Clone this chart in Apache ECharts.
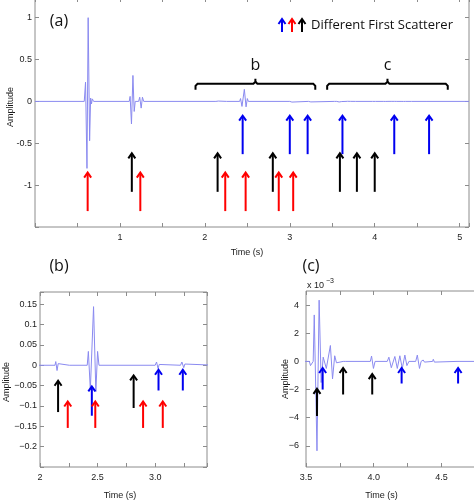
<!DOCTYPE html>
<html>
<head>
<meta charset="utf-8">
<script src="https://cdn.jsdelivr.net/npm/echarts@6/dist/echarts.min.js"></script>
<style>
  html, body { margin: 0; padding: 0; background: #fff; }
  #chart { width: 474px; height: 501px; }
</style>
</head>
<body>
<div id="chart"></div>
<script>
// waveform (time in s, amplitude); (b) and (c) are zooms of the same trace
const traceT = [0, 0.58, 0.595, 0.612, 0.626, 0.643, 0.655, 0.665, 0.675, 0.69,
  1.11, 1.12, 1.136, 1.153, 1.168, 1.18, 1.22, 1.233, 1.25, 1.265, 1.28,
  2.13, 2.137, 2.148, 2.158, 2.168, 2.255, 2.262, 2.27, 2.278,
  2.41, 2.42, 2.437, 2.465, 2.485, 2.5, 2.512,
  3.0, 3.012, 3.025, 3.035, 3.045, 3.22, 3.232, 3.248, 3.258, 3.268,
  3.525, 3.533, 3.553, 3.561, 3.581, 3.597, 3.612, 3.627, 3.65, 3.68, 3.696, 3.712, 3.725, 3.735,
  3.775, 3.782, 3.79, 3.975, 3.984, 3.998, 4.01,
  4.1, 4.112, 4.13, 4.156, 4.174, 4.193, 4.211, 4.23, 4.245, 4.26,
  4.31, 4.322, 4.338, 4.35, 4.365, 4.375, 4.385, 4.435, 4.44, 4.448, 4.456,
  4.615, 4.622, 4.63, 5.11];
const traceA = [0, 0, 0.23, -0.8, 1.0, -0.47, 0.04, -0.03, 0.03, 0,
  0, 0.06, -0.27, 0.31, -0.12, 0, 0, 0.05, -0.08, 0.05, 0,
  0, 0.009, -0.013, 0.004, 0, 0, 0.004, -0.003, 0,
  0, 0.034, -0.06, 0.144, -0.065, 0.034, 0,
  0, 0.008, -0.008, 0.002, 0, 0, 0.008, -0.006, 0.003, 0,
  0, -0.0003, 0, 0.0033, -0.00635, 0.00435, -0.0015, 0.0003, -0.0005, 0.00113, -0.00124, 0.0004, -0.0001, 0,
  0, 0.0001, 0, 0, 0.00038, -0.0005, 0,
  0, 0.0003, -0.00045, 0.00035, -0.0005, 0.0004, -0.0005, 0.00045, -0.0003, 0,
  0, 0.00045, -0.0005, 0, 0.0001, -0.00005, 0, 0, 0.00015, -0.00005, 0,
  0, 0.00005, 0, 0];

// arrows: [time, tail amplitude, tip amplitude]
const aBlue  = [[2.445, -0.63, -0.17], [3.0, -0.63, -0.17], [3.21, -0.63, -0.17], [3.62, -0.63, -0.17], [4.23, -0.63, -0.17], [4.64, -0.63, -0.17]];
const aBlack = [[1.14, -1.08, -0.62], [2.15, -1.08, -0.62], [2.80, -1.08, -0.62], [3.59, -1.08, -0.62], [3.79, -1.08, -0.62], [4.00, -1.08, -0.62]];
const aRed   = [[0.62, -1.31, -0.85], [1.24, -1.31, -0.85], [2.24, -1.31, -0.85], [2.48, -1.31, -0.85], [2.87, -1.31, -0.85], [3.04, -1.31, -0.85]];
const bBlue  = [[2.45, -0.124, -0.052], [3.029, -0.062, -0.011], [3.24, -0.062, -0.011]];
const bBlack = [[2.157, -0.115, -0.038], [2.813, -0.105, -0.025]];
const bRed   = [[2.241, -0.154, -0.089], [2.48, -0.154, -0.089], [2.895, -0.154, -0.089], [3.066, -0.154, -0.089]];
const cBlue  = [[3.623, -2.0, -0.47], [4.206, -1.57, -0.47], [4.623, -1.57, -0.47]];
const cBlack = [[3.581, -3.88, -1.95], [3.774, -2.35, -0.47], [3.989, -2.35, -0.9]];

// braces over panel (a): [start, end, amplitude]
const braceSpans = [[1.89, 3.30, 0.21], [3.44, 4.86, 0.21]];
const braceNames = ['b', 'c'];

const cYTicks = [-6, -4, -2, 0, 2, 4];

const BLUE = '#0000f0', RED = '#ff0000', BLACK = '#000000', TRACE = '#8a8af0';
const FRAME = '#8c8c8c';
const tickFont = { fontFamily: '"Liberation Sans", Arial', fontSize: 9, color: '#222' };

var myChart = echarts.init(document.getElementById('chart'));

function arrowSeries(data, color, ax) {
  return {
    type: 'custom', xAxisIndex: ax, yAxisIndex: ax, silent: true, z: 5,
    data: data,
    renderItem: function (params, api) {
      const p0 = api.coord([api.value(0), api.value(1)]);
      const p1 = api.coord([api.value(0), api.value(2)]);
      return {
        type: 'group',
        children: [
          { type: 'line', shape: { x1: p0[0], y1: p0[1], x2: p1[0], y2: p1[1] + 1 },
            style: { stroke: color, lineWidth: 2 } },
          { type: 'polyline', shape: { points: [[p1[0] - 3.5, p1[1] + 5], [p1[0], p1[1]], [p1[0] + 3.5, p1[1] + 5]] },
            style: { stroke: color, lineWidth: 2, fill: null } }
        ]
      };
    }
  };
}

// whole trace on every panel, the grid clips it to the zoom window
function traceSeries(ax, scale) {
  return {
    type: 'line', xAxisIndex: ax, yAxisIndex: ax, showSymbol: false, clip: true,
    data: traceT.map((t, i) => [t, traceA[i] * scale]),
    lineStyle: { color: TRACE, width: 1 }, silent: true, z: 3
  };
}

function xAx(grid, pos, min, max, interval, fmt) {
  return {
    type: 'value', gridIndex: grid, position: pos, min: min, max: max, interval: interval,
    axisLine: { show: false, onZero: false }, splitLine: { show: false },
    axisTick: { inside: true, length: 4, lineStyle: { color: FRAME } },
    axisLabel: fmt ? Object.assign({ show: true, margin: 6, formatter: fmt }, tickFont) : { show: false }
  };
}
function yAx(grid, pos, min, max, interval, fmt, margin) {
  return {
    type: 'value', gridIndex: grid, position: pos, min: min, max: max, interval: interval,
    axisLine: { show: false, onZero: false }, splitLine: { show: false },
    axisTick: { inside: true, length: 4, lineStyle: { color: FRAME } },
    axisLabel: fmt ? Object.assign({ show: true, margin: margin, formatter: fmt }, tickFont) : { show: false }
  };
}

const r2 = v => Math.round(v * 1000) / 1000;
const fmtAX = v => { v = r2(v); return (Number.isInteger(v) && v > 0) ? String(v) : ''; };
const fmtAY = v => { v = r2(v); return (v >= -1 && v <= 1) ? String(v) : ''; };
const fmtBX = v => { v = r2(v); return ({ 2: '2', 2.5: '2.5', 3: '3.0' })[v] || ''; };
const fmtBY = v => { v = r2(v); return (v >= -0.2 && v <= 0.15) ? String(v).replace('-', '\u2212') : ''; };
const fmtCX = v => { v = r2(v); return ({ 3.5: '3.5', 4: '4.0', 4.5: '4.5' })[v] || ''; };
const fmtCY = v => { v = r2(v); return String(v).replace('-', '\u2212'); };

const yC = yAx(2, 'left', -7.5, 5, null, fmtCY, 7);
yC.axisTick.customValues = cYTicks;
yC.axisLabel.customValues = cYTicks;
const yCr = yAx(2, 'right', -7.5, 5, null, null);
yCr.axisTick.customValues = cYTicks;

function label(text, x, y, size, rot) {
  return {
    type: 'text', x: x, y: y, rotation: rot || 0, silent: true,
    style: { text: text, align: 'center', verticalAlign: 'middle', fill: '#1a1a1a',
      font: size + 'px "Liberation Sans", Arial' }
  };
}
function annot(text, x, y, size, align) {
  return {
    type: 'text', x: x, y: y, silent: true,
    style: { text: text, align: align || 'center', verticalAlign: 'middle', fill: '#111',
      font: size + 'px "Open Sans"' }
  };
}
function legendArrow(x, color) {
  return {
    type: 'group', silent: true, children: [
      { type: 'line', shape: { x1: x, y1: 32, x2: x, y2: 20 }, style: { stroke: color, lineWidth: 2 } },
      { type: 'polyline', shape: { points: [[x - 3.5, 24], [x, 19], [x + 3.5, 24]] }, style: { stroke: color, lineWidth: 2, fill: null } }
    ]
  };
}

const gridBase = { show: true, borderColor: FRAME, borderWidth: 1, outerBoundsMode: 'none', containLabel: false };

const option = {
  animation: false,
  backgroundColor: '#fff',
  grid: [
    Object.assign({ left: 35, top: -2, width: 434, height: 229 }, gridBase),
    Object.assign({ left: 40, top: 292, width: 167, height: 175 }, gridBase),
    Object.assign({ left: 306, top: 291, width: 172, height: 176 }, gridBase)
  ],
  xAxis: [
    xAx(0, 'bottom', 0, 5.11, 0.5, fmtAX), xAx(0, 'top', 0, 5.11, 0.5, null),
    xAx(1, 'bottom', 2, 3.45, 0.25, fmtBX), xAx(1, 'top', 2, 3.45, 0.25, null),
    xAx(2, 'bottom', 3.5, 4.77, 0.25, fmtCX), xAx(2, 'top', 3.5, 4.77, 0.25, null)
  ],
  yAxis: [
    yAx(0, 'left', -1.5, 1.235, 0.5, fmtAY, 3), yAx(0, 'right', -1.5, 1.235, 0.5, null),
    yAx(1, 'left', -0.25, 0.18, 0.05, fmtBY, 3), yAx(1, 'right', -0.25, 0.18, 0.05, null),
    yC, yCr
  ],
  series: [
    traceSeries(0, 1),
    traceSeries(2, 1),
    traceSeries(4, 1000),
    arrowSeries(aBlue, BLUE, 0), arrowSeries(aBlack, BLACK, 0), arrowSeries(aRed, RED, 0),
    arrowSeries(bBlue, BLUE, 2), arrowSeries(bBlack, BLACK, 2), arrowSeries(bRed, RED, 2),
    arrowSeries(cBlue, BLUE, 4), arrowSeries(cBlack, BLACK, 4),
    {
      type: 'custom', xAxisIndex: 0, yAxisIndex: 0, silent: true, z: 4,
      data: braceSpans,
      renderItem: function (params, api) {
        const a = api.coord([api.value(0), api.value(2)]);
        const b = api.coord([api.value(1), api.value(2)]);
        const m = (a[0] + b[0]) / 2, y = a[1];
        const st = { stroke: BLACK, lineWidth: 2, fill: null };
        return {
          type: 'group',
          children: [
            { type: 'polyline', shape: { points: [[a[0], y + 6], [a[0], y + 2], [a[0] + 2, y], [m - 2, y], [m, y - 2], [m, y - 5]] }, style: st },
            { type: 'polyline', shape: { points: [[m, y - 2], [m + 2, y], [b[0] - 2, y], [b[0], y + 2], [b[0], y + 6]] }, style: st },
            { type: 'text', x: m, y: y - 18, style: { text: braceNames[params.dataIndex], align: 'center', verticalAlign: 'middle',
              fill: '#111', font: '16px "Open Sans"' } }
          ]
        };
      }
    }
  ],
  graphic: [
    annot('(a)', 59, 21, 16), annot('(b)', 59, 266, 16), annot('(c)', 311, 266, 16),
    legendArrow(282, BLUE), legendArrow(292, RED), legendArrow(302, BLACK),
    annot('Different First Scatterer', 311, 25.5, 13, 'left'),
    label('Amplitude', 11, 107, 9, Math.PI / 2),
    label('Time (s)', 247, 252.5, 9),
    label('Amplitude', 7, 382, 9, Math.PI / 2),
    label('Time (s)', 120, 495.5, 9),
    label('Amplitude', 285.5, 379, 9, Math.PI / 2),
    label('Time (s)', 381.5, 495.5, 9),
    { type: 'text', x: 307, y: 285.5, silent: true, style: { text: 'x 10', align: 'left', verticalAlign: 'middle', fill: '#1a1a1a', font: '9px "Liberation Sans", Arial' } },
    { type: 'text', x: 326, y: 281, silent: true, style: { text: '\u22123', align: 'left', verticalAlign: 'middle', fill: '#1a1a1a', font: '7px "Liberation Sans", Arial' } }
  ]
};

myChart.setOption(option);
</script>
</body>
</html>
